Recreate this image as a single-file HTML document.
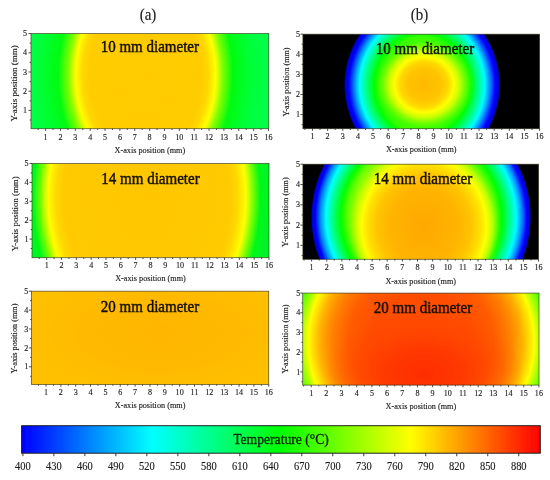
<!DOCTYPE html>
<html><head><meta charset="utf-8"><title>Temperature maps</title>
<style>
html,body{margin:0;padding:0;background:#fff;}
svg{display:block;font-family:"Liberation Serif",serif;}
</style></head><body>
<svg width="550" height="480" viewBox="0 0 550 480">
<defs>
<filter id="soft" x="0" y="0" width="550" height="480" filterUnits="userSpaceOnUse"><feGaussianBlur stdDeviation="0.38"/></filter>
<radialGradient id="ga1" gradientUnits="userSpaceOnUse" cx="0" cy="0" r="1" gradientTransform="translate(145.5,75) scale(115.5,160.04999999999998)"><stop offset="0.0000" stop-color="#ffcb00"/><stop offset="0.4848" stop-color="#ffcc00"/><stop offset="0.5455" stop-color="#ffd800"/><stop offset="0.5818" stop-color="#fff000"/><stop offset="0.6061" stop-color="#ffff00"/><stop offset="0.6273" stop-color="#d8ff00"/><stop offset="0.6667" stop-color="#80ff00"/><stop offset="0.7576" stop-color="#00fb10"/><stop offset="0.8788" stop-color="#00ff30"/><stop offset="1.0000" stop-color="#00ff44"/></radialGradient>
<radialGradient id="gb1" gradientUnits="userSpaceOnUse" cx="0" cy="0" r="1" gradientTransform="translate(422.1,85) scale(78.2,85.6)"><stop offset="0.0000" stop-color="#ffb400"/><stop offset="0.1200" stop-color="#ffc000"/><stop offset="0.3600" stop-color="#ffff00"/><stop offset="0.5000" stop-color="#80ff00"/><stop offset="0.6100" stop-color="#00ff00"/><stop offset="0.7100" stop-color="#00ff80"/><stop offset="0.8000" stop-color="#00ffff"/><stop offset="0.8700" stop-color="#0080ff"/><stop offset="0.9350" stop-color="#0000ff"/><stop offset="0.9800" stop-color="#0000d0"/><stop offset="1.0000" stop-color="#000000"/></radialGradient>
<radialGradient id="gb1i" gradientUnits="userSpaceOnUse" cx="0" cy="0" r="1" gradientTransform="translate(424,84.5) scale(51,48)"><stop offset="0.0000" stop-color="#ffb800"/><stop offset="0.3300" stop-color="#ffc400"/><stop offset="0.4700" stop-color="#ffd800"/><stop offset="0.5800" stop-color="#ffff00"/><stop offset="0.6800" stop-color="#d0ff00"/><stop offset="0.7800" stop-color="#80ff00"/><stop offset="0.9000" stop-color="#30ff00" stop-opacity="0.8"/><stop offset="1.0000" stop-color="#00ff00" stop-opacity="0"/></radialGradient>
<radialGradient id="ga2" gradientUnits="userSpaceOnUse" cx="0" cy="0" r="1" gradientTransform="translate(146.8,197) scale(128.44,179.4)"><stop offset="0.0000" stop-color="#ffc600"/><stop offset="0.6462" stop-color="#ffca00"/><stop offset="0.7077" stop-color="#ffd800"/><stop offset="0.7462" stop-color="#fff000"/><stop offset="0.7692" stop-color="#ffff00"/><stop offset="0.7885" stop-color="#d8ff00"/><stop offset="0.8231" stop-color="#80ff00"/><stop offset="0.8846" stop-color="#00f818"/><stop offset="1.0000" stop-color="#00f030"/></radialGradient>
<radialGradient id="gb2" gradientUnits="userSpaceOnUse" cx="0" cy="0" r="1" gradientTransform="translate(421,217) scale(110,112.5)"><stop offset="0.0000" stop-color="#ffaa00"/><stop offset="0.3500" stop-color="#ffb400"/><stop offset="0.5700" stop-color="#ffff00"/><stop offset="0.6500" stop-color="#80ff00"/><stop offset="0.7300" stop-color="#00ff00"/><stop offset="0.8000" stop-color="#00ff80"/><stop offset="0.8640" stop-color="#00ffff"/><stop offset="0.9200" stop-color="#0080ff"/><stop offset="0.9600" stop-color="#0000ff"/><stop offset="0.9900" stop-color="#0000d0"/><stop offset="1.0000" stop-color="#000000"/></radialGradient>
<radialGradient id="gb2i" gradientUnits="userSpaceOnUse" cx="0" cy="0" r="1" gradientTransform="translate(424,226) scale(79.375,86.36)"><stop offset="0.0000" stop-color="#ffa800"/><stop offset="0.4331" stop-color="#ffb400"/><stop offset="0.5906" stop-color="#ffc400"/><stop offset="0.7087" stop-color="#ffe000"/><stop offset="0.7874" stop-color="#ffff00"/><stop offset="0.8661" stop-color="#c0ff00" stop-opacity="0.85"/><stop offset="1.0000" stop-color="#00ff00" stop-opacity="0"/></radialGradient>
<radialGradient id="gb3" gradientUnits="userSpaceOnUse" cx="0" cy="0" r="1" gradientTransform="translate(421,342) scale(127.68999999999998,126.55999999999999)"><stop offset="0.0000" stop-color="#ff4a00"/><stop offset="0.3982" stop-color="#ff4e00"/><stop offset="0.5664" stop-color="#ff5c00"/><stop offset="0.6814" stop-color="#ff7c00"/><stop offset="0.7389" stop-color="#ff9400"/><stop offset="0.7965" stop-color="#ffb400"/><stop offset="0.8407" stop-color="#ffd800"/><stop offset="0.8850" stop-color="#ffff00"/><stop offset="0.9292" stop-color="#b0ff00"/><stop offset="1.0000" stop-color="#40ff00"/></radialGradient>
<radialGradient id="gb3i" gradientUnits="userSpaceOnUse" cx="0" cy="0" r="1" gradientTransform="translate(424,374) scale(100,62)"><stop offset="0.0000" stop-color="#ff2c00"/><stop offset="0.4000" stop-color="#ff3400" stop-opacity="0.8"/><stop offset="1.0000" stop-color="#ff4800" stop-opacity="0"/></radialGradient>
<radialGradient id="ga3" gradientUnits="userSpaceOnUse" cx="0" cy="0" r="1" gradientTransform="translate(160,332) scale(135,62)"><stop offset="0.0000" stop-color="#ffb500"/><stop offset="0.5000" stop-color="#ffb900"/><stop offset="1.0000" stop-color="#ffc000"/></radialGradient>
<linearGradient id="gcb" x1="0" y1="0" x2="1" y2="0"><stop offset="0.0000" stop-color="#0000ff"/><stop offset="0.0250" stop-color="#0017ff"/><stop offset="0.0500" stop-color="#0031ff"/><stop offset="0.0750" stop-color="#004aff"/><stop offset="0.1000" stop-color="#0064ff"/><stop offset="0.1250" stop-color="#007dff"/><stop offset="0.1500" stop-color="#0097ff"/><stop offset="0.1750" stop-color="#00b1ff"/><stop offset="0.2000" stop-color="#00caff"/><stop offset="0.2250" stop-color="#00e4ff"/><stop offset="0.2500" stop-color="#00feff"/><stop offset="0.2750" stop-color="#00ffe7"/><stop offset="0.3000" stop-color="#00ffcd"/><stop offset="0.3250" stop-color="#00ffb4"/><stop offset="0.3500" stop-color="#00ff9a"/><stop offset="0.3750" stop-color="#00ff80"/><stop offset="0.4000" stop-color="#00ff67"/><stop offset="0.4250" stop-color="#00ff4d"/><stop offset="0.4500" stop-color="#00ff34"/><stop offset="0.4750" stop-color="#00ff1a"/><stop offset="0.5000" stop-color="#00ff00"/><stop offset="0.5250" stop-color="#19ff00"/><stop offset="0.5500" stop-color="#33ff00"/><stop offset="0.5750" stop-color="#4cff00"/><stop offset="0.6000" stop-color="#66ff00"/><stop offset="0.6250" stop-color="#80ff00"/><stop offset="0.6500" stop-color="#99ff00"/><stop offset="0.6750" stop-color="#b3ff00"/><stop offset="0.7000" stop-color="#ccff00"/><stop offset="0.7250" stop-color="#e6ff00"/><stop offset="0.7500" stop-color="#fffe00"/><stop offset="0.7750" stop-color="#ffe500"/><stop offset="0.8000" stop-color="#ffcb00"/><stop offset="0.8250" stop-color="#ffb100"/><stop offset="0.8500" stop-color="#ff9800"/><stop offset="0.8750" stop-color="#ff7e00"/><stop offset="0.9000" stop-color="#ff6500"/><stop offset="0.9250" stop-color="#ff4b00"/><stop offset="0.9500" stop-color="#ff3100"/><stop offset="0.9750" stop-color="#ff1800"/><stop offset="1.0000" stop-color="#ff0000"/></linearGradient>
</defs>
<rect width="550" height="480" fill="#fff"/>
<g filter="url(#soft)">
<rect x="31.0" y="33.6" width="237.70" height="95.10" fill="url(#ga1)"/>
<rect x="31.0" y="33.6" width="237.70" height="95.10" fill="none" stroke="#2a2a10" stroke-opacity="0.75" stroke-width="0.8"/>
<text transform="translate(45.60,139.80) scale(0.93,1)" font-size="8.7" text-anchor="middle" fill="#1c1c1c" stroke="#222" stroke-width="0.15">1</text>
<text transform="translate(60.46,139.80) scale(0.93,1)" font-size="8.7" text-anchor="middle" fill="#1c1c1c" stroke="#222" stroke-width="0.15">2</text>
<text transform="translate(75.32,139.80) scale(0.93,1)" font-size="8.7" text-anchor="middle" fill="#1c1c1c" stroke="#222" stroke-width="0.15">3</text>
<text transform="translate(90.18,139.80) scale(0.93,1)" font-size="8.7" text-anchor="middle" fill="#1c1c1c" stroke="#222" stroke-width="0.15">4</text>
<text transform="translate(105.04,139.80) scale(0.93,1)" font-size="8.7" text-anchor="middle" fill="#1c1c1c" stroke="#222" stroke-width="0.15">5</text>
<text transform="translate(119.90,139.80) scale(0.93,1)" font-size="8.7" text-anchor="middle" fill="#1c1c1c" stroke="#222" stroke-width="0.15">6</text>
<text transform="translate(134.76,139.80) scale(0.93,1)" font-size="8.7" text-anchor="middle" fill="#1c1c1c" stroke="#222" stroke-width="0.15">7</text>
<text transform="translate(149.62,139.80) scale(0.93,1)" font-size="8.7" text-anchor="middle" fill="#1c1c1c" stroke="#222" stroke-width="0.15">8</text>
<text transform="translate(164.48,139.80) scale(0.93,1)" font-size="8.7" text-anchor="middle" fill="#1c1c1c" stroke="#222" stroke-width="0.15">9</text>
<text transform="translate(179.34,139.80) scale(0.93,1)" font-size="8.7" text-anchor="middle" fill="#1c1c1c" stroke="#222" stroke-width="0.15">10</text>
<text transform="translate(194.20,139.80) scale(0.93,1)" font-size="8.7" text-anchor="middle" fill="#1c1c1c" stroke="#222" stroke-width="0.15">11</text>
<text transform="translate(209.06,139.80) scale(0.93,1)" font-size="8.7" text-anchor="middle" fill="#1c1c1c" stroke="#222" stroke-width="0.15">12</text>
<text transform="translate(223.92,139.80) scale(0.93,1)" font-size="8.7" text-anchor="middle" fill="#1c1c1c" stroke="#222" stroke-width="0.15">13</text>
<text transform="translate(238.78,139.80) scale(0.93,1)" font-size="8.7" text-anchor="middle" fill="#1c1c1c" stroke="#222" stroke-width="0.15">14</text>
<text transform="translate(253.64,139.80) scale(0.93,1)" font-size="8.7" text-anchor="middle" fill="#1c1c1c" stroke="#222" stroke-width="0.15">15</text>
<text transform="translate(268.50,139.80) scale(0.93,1)" font-size="8.7" text-anchor="middle" fill="#1c1c1c" stroke="#222" stroke-width="0.15">16</text>
<text transform="translate(25.10,113.00) scale(0.93,1)" font-size="8.7" text-anchor="middle" fill="#1c1c1c" stroke="#222" stroke-width="0.15">1</text>
<text transform="translate(25.10,93.80) scale(0.93,1)" font-size="8.7" text-anchor="middle" fill="#1c1c1c" stroke="#222" stroke-width="0.15">2</text>
<text transform="translate(25.10,74.60) scale(0.93,1)" font-size="8.7" text-anchor="middle" fill="#1c1c1c" stroke="#222" stroke-width="0.15">3</text>
<text transform="translate(25.10,55.40) scale(0.93,1)" font-size="8.7" text-anchor="middle" fill="#1c1c1c" stroke="#222" stroke-width="0.15">4</text>
<text transform="translate(25.10,36.20) scale(0.93,1)" font-size="8.7" text-anchor="middle" fill="#1c1c1c" stroke="#222" stroke-width="0.15">5</text>
<path d="M45.60 130.90V128.70M38.17 130.00V128.70M60.46 130.90V128.70M53.03 130.00V128.70M75.32 130.90V128.70M67.89 130.00V128.70M90.18 130.90V128.70M82.75 130.00V128.70M105.04 130.90V128.70M97.61 130.00V128.70M119.90 130.90V128.70M112.47 130.00V128.70M134.76 130.90V128.70M127.33 130.00V128.70M149.62 130.90V128.70M142.19 130.00V128.70M164.48 130.90V128.70M157.05 130.00V128.70M179.34 130.90V128.70M171.91 130.00V128.70M194.20 130.90V128.70M186.77 130.00V128.70M209.06 130.90V128.70M201.63 130.00V128.70M223.92 130.90V128.70M216.49 130.00V128.70M238.78 130.90V128.70M231.35 130.00V128.70M253.64 130.90V128.70M246.21 130.00V128.70M268.50 130.90V128.70M261.07 130.00V128.70M28.50 110.40H31.00M29.70 120.00H31.00M28.50 91.20H31.00M29.70 100.80H31.00M28.50 72.00H31.00M29.70 81.60H31.00M28.50 52.80H31.00M29.70 62.40H31.00M28.50 33.60H31.00M29.70 43.20H31.00" fill="none" stroke="#222" stroke-width="0.8"/>
<text transform="translate(149.85,152.70) scale(0.912,1)" font-size="9.0" text-anchor="middle" fill="#1c1c1c" stroke="#222" stroke-width="0.15">X-axis position (mm)</text>
<text transform="translate(17.25,83.40) scale(0.8641975308641976,1) rotate(-90)" font-size="9.0" text-anchor="middle" fill="#1c1c1c" stroke="#222" stroke-width="0.15">Y-axis position (mm)</text>
<text transform="translate(149.85,52.30) scale(0.91,1)" font-size="16.5" text-anchor="middle" fill="#141000" stroke="#141000" stroke-width="0.45">10 mm diameter</text>
<rect x="302.9" y="34.2" width="236.70" height="94.50" fill="url(#gb1)"/>
<rect x="302.9" y="34.2" width="236.70" height="94.50" fill="url(#gb1i)"/>
<rect x="302.9" y="34.2" width="236.70" height="94.50" fill="none" stroke="#2a2a10" stroke-opacity="0.75" stroke-width="0.8"/>
<text transform="translate(312.50,139.20) scale(0.93,1)" font-size="8.7" text-anchor="middle" fill="#1c1c1c" stroke="#222" stroke-width="0.15">1</text>
<text transform="translate(327.64,139.20) scale(0.93,1)" font-size="8.7" text-anchor="middle" fill="#1c1c1c" stroke="#222" stroke-width="0.15">2</text>
<text transform="translate(342.78,139.20) scale(0.93,1)" font-size="8.7" text-anchor="middle" fill="#1c1c1c" stroke="#222" stroke-width="0.15">3</text>
<text transform="translate(357.92,139.20) scale(0.93,1)" font-size="8.7" text-anchor="middle" fill="#1c1c1c" stroke="#222" stroke-width="0.15">4</text>
<text transform="translate(373.06,139.20) scale(0.93,1)" font-size="8.7" text-anchor="middle" fill="#1c1c1c" stroke="#222" stroke-width="0.15">5</text>
<text transform="translate(388.20,139.20) scale(0.93,1)" font-size="8.7" text-anchor="middle" fill="#1c1c1c" stroke="#222" stroke-width="0.15">6</text>
<text transform="translate(403.34,139.20) scale(0.93,1)" font-size="8.7" text-anchor="middle" fill="#1c1c1c" stroke="#222" stroke-width="0.15">7</text>
<text transform="translate(418.48,139.20) scale(0.93,1)" font-size="8.7" text-anchor="middle" fill="#1c1c1c" stroke="#222" stroke-width="0.15">8</text>
<text transform="translate(433.62,139.20) scale(0.93,1)" font-size="8.7" text-anchor="middle" fill="#1c1c1c" stroke="#222" stroke-width="0.15">9</text>
<text transform="translate(448.76,139.20) scale(0.93,1)" font-size="8.7" text-anchor="middle" fill="#1c1c1c" stroke="#222" stroke-width="0.15">10</text>
<text transform="translate(463.90,139.20) scale(0.93,1)" font-size="8.7" text-anchor="middle" fill="#1c1c1c" stroke="#222" stroke-width="0.15">11</text>
<text transform="translate(479.04,139.20) scale(0.93,1)" font-size="8.7" text-anchor="middle" fill="#1c1c1c" stroke="#222" stroke-width="0.15">12</text>
<text transform="translate(494.18,139.20) scale(0.93,1)" font-size="8.7" text-anchor="middle" fill="#1c1c1c" stroke="#222" stroke-width="0.15">13</text>
<text transform="translate(509.32,139.20) scale(0.93,1)" font-size="8.7" text-anchor="middle" fill="#1c1c1c" stroke="#222" stroke-width="0.15">14</text>
<text transform="translate(524.46,139.20) scale(0.93,1)" font-size="8.7" text-anchor="middle" fill="#1c1c1c" stroke="#222" stroke-width="0.15">15</text>
<text transform="translate(539.60,139.20) scale(0.93,1)" font-size="8.7" text-anchor="middle" fill="#1c1c1c" stroke="#222" stroke-width="0.15">16</text>
<text transform="translate(298.00,117.20) scale(0.93,1)" font-size="8.7" text-anchor="middle" fill="#1c1c1c" stroke="#222" stroke-width="0.15">1</text>
<text transform="translate(298.00,97.10) scale(0.93,1)" font-size="8.7" text-anchor="middle" fill="#1c1c1c" stroke="#222" stroke-width="0.15">2</text>
<text transform="translate(298.00,77.00) scale(0.93,1)" font-size="8.7" text-anchor="middle" fill="#1c1c1c" stroke="#222" stroke-width="0.15">3</text>
<text transform="translate(298.00,56.90) scale(0.93,1)" font-size="8.7" text-anchor="middle" fill="#1c1c1c" stroke="#222" stroke-width="0.15">4</text>
<text transform="translate(298.00,36.80) scale(0.93,1)" font-size="8.7" text-anchor="middle" fill="#1c1c1c" stroke="#222" stroke-width="0.15">5</text>
<path d="M312.50 130.90V128.70M304.93 130.00V128.70M327.64 130.90V128.70M320.07 130.00V128.70M342.78 130.90V128.70M335.21 130.00V128.70M357.92 130.90V128.70M350.35 130.00V128.70M373.06 130.90V128.70M365.49 130.00V128.70M388.20 130.90V128.70M380.63 130.00V128.70M403.34 130.90V128.70M395.77 130.00V128.70M418.48 130.90V128.70M410.91 130.00V128.70M433.62 130.90V128.70M426.05 130.00V128.70M448.76 130.90V128.70M441.19 130.00V128.70M463.90 130.90V128.70M456.33 130.00V128.70M479.04 130.90V128.70M471.47 130.00V128.70M494.18 130.90V128.70M486.61 130.00V128.70M509.32 130.90V128.70M501.75 130.00V128.70M524.46 130.90V128.70M516.89 130.00V128.70M539.60 130.90V128.70M532.03 130.00V128.70M300.40 114.60H302.90M301.60 124.65H302.90M300.40 94.50H302.90M301.60 104.55H302.90M300.40 74.40H302.90M301.60 84.45H302.90M300.40 54.30H302.90M301.60 64.35H302.90M300.40 34.20H302.90M301.60 44.25H302.90" fill="none" stroke="#222" stroke-width="0.8"/>
<text transform="translate(421.25,152.00) scale(0.912,1)" font-size="9.0" text-anchor="middle" fill="#1c1c1c" stroke="#222" stroke-width="0.15">X-axis position (mm)</text>
<text transform="translate(289.20,82.00) scale(0.9543285616905248,1) rotate(-90)" font-size="8.15" text-anchor="middle" fill="#1c1c1c" stroke="#222" stroke-width="0.15">Y-axis position (mm)</text>
<text transform="translate(425.00,53.50) scale(0.91,1)" font-size="16.5" text-anchor="middle" fill="#141000" stroke="#141000" stroke-width="0.45">10 mm diameter</text>
<rect x="32.0" y="163.5" width="237.00" height="94.20" fill="url(#ga2)"/>
<rect x="32.0" y="163.5" width="237.00" height="94.20" fill="none" stroke="#2a2a10" stroke-opacity="0.75" stroke-width="0.8"/>
<text transform="translate(46.70,268.10) scale(0.93,1)" font-size="8.7" text-anchor="middle" fill="#1c1c1c" stroke="#222" stroke-width="0.15">1</text>
<text transform="translate(61.52,268.10) scale(0.93,1)" font-size="8.7" text-anchor="middle" fill="#1c1c1c" stroke="#222" stroke-width="0.15">2</text>
<text transform="translate(76.34,268.10) scale(0.93,1)" font-size="8.7" text-anchor="middle" fill="#1c1c1c" stroke="#222" stroke-width="0.15">3</text>
<text transform="translate(91.16,268.10) scale(0.93,1)" font-size="8.7" text-anchor="middle" fill="#1c1c1c" stroke="#222" stroke-width="0.15">4</text>
<text transform="translate(105.98,268.10) scale(0.93,1)" font-size="8.7" text-anchor="middle" fill="#1c1c1c" stroke="#222" stroke-width="0.15">5</text>
<text transform="translate(120.80,268.10) scale(0.93,1)" font-size="8.7" text-anchor="middle" fill="#1c1c1c" stroke="#222" stroke-width="0.15">6</text>
<text transform="translate(135.62,268.10) scale(0.93,1)" font-size="8.7" text-anchor="middle" fill="#1c1c1c" stroke="#222" stroke-width="0.15">7</text>
<text transform="translate(150.44,268.10) scale(0.93,1)" font-size="8.7" text-anchor="middle" fill="#1c1c1c" stroke="#222" stroke-width="0.15">8</text>
<text transform="translate(165.26,268.10) scale(0.93,1)" font-size="8.7" text-anchor="middle" fill="#1c1c1c" stroke="#222" stroke-width="0.15">9</text>
<text transform="translate(180.08,268.10) scale(0.93,1)" font-size="8.7" text-anchor="middle" fill="#1c1c1c" stroke="#222" stroke-width="0.15">10</text>
<text transform="translate(194.90,268.10) scale(0.93,1)" font-size="8.7" text-anchor="middle" fill="#1c1c1c" stroke="#222" stroke-width="0.15">11</text>
<text transform="translate(209.72,268.10) scale(0.93,1)" font-size="8.7" text-anchor="middle" fill="#1c1c1c" stroke="#222" stroke-width="0.15">12</text>
<text transform="translate(224.54,268.10) scale(0.93,1)" font-size="8.7" text-anchor="middle" fill="#1c1c1c" stroke="#222" stroke-width="0.15">13</text>
<text transform="translate(239.36,268.10) scale(0.93,1)" font-size="8.7" text-anchor="middle" fill="#1c1c1c" stroke="#222" stroke-width="0.15">14</text>
<text transform="translate(254.18,268.10) scale(0.93,1)" font-size="8.7" text-anchor="middle" fill="#1c1c1c" stroke="#222" stroke-width="0.15">15</text>
<text transform="translate(269.00,268.10) scale(0.93,1)" font-size="8.7" text-anchor="middle" fill="#1c1c1c" stroke="#222" stroke-width="0.15">16</text>
<text transform="translate(26.40,241.70) scale(0.93,1)" font-size="8.7" text-anchor="middle" fill="#1c1c1c" stroke="#222" stroke-width="0.15">1</text>
<text transform="translate(26.40,222.80) scale(0.93,1)" font-size="8.7" text-anchor="middle" fill="#1c1c1c" stroke="#222" stroke-width="0.15">2</text>
<text transform="translate(26.40,203.90) scale(0.93,1)" font-size="8.7" text-anchor="middle" fill="#1c1c1c" stroke="#222" stroke-width="0.15">3</text>
<text transform="translate(26.40,185.00) scale(0.93,1)" font-size="8.7" text-anchor="middle" fill="#1c1c1c" stroke="#222" stroke-width="0.15">4</text>
<text transform="translate(26.40,166.10) scale(0.93,1)" font-size="8.7" text-anchor="middle" fill="#1c1c1c" stroke="#222" stroke-width="0.15">5</text>
<path d="M46.70 259.90V257.70M39.29 259.00V257.70M61.52 259.90V257.70M54.11 259.00V257.70M76.34 259.90V257.70M68.93 259.00V257.70M91.16 259.90V257.70M83.75 259.00V257.70M105.98 259.90V257.70M98.57 259.00V257.70M120.80 259.90V257.70M113.39 259.00V257.70M135.62 259.90V257.70M128.21 259.00V257.70M150.44 259.90V257.70M143.03 259.00V257.70M165.26 259.90V257.70M157.85 259.00V257.70M180.08 259.90V257.70M172.67 259.00V257.70M194.90 259.90V257.70M187.49 259.00V257.70M209.72 259.90V257.70M202.31 259.00V257.70M224.54 259.90V257.70M217.13 259.00V257.70M239.36 259.90V257.70M231.95 259.00V257.70M254.18 259.90V257.70M246.77 259.00V257.70M269.00 259.90V257.70M261.59 259.00V257.70M29.50 239.10H32.00M30.70 248.55H32.00M29.50 220.20H32.00M30.70 229.65H32.00M29.50 201.30H32.00M30.70 210.75H32.00M29.50 182.40H32.00M30.70 191.85H32.00M29.50 163.50H32.00M30.70 172.95H32.00" fill="none" stroke="#222" stroke-width="0.8"/>
<text transform="translate(150.50,281.00) scale(0.912,1)" font-size="9.0" text-anchor="middle" fill="#1c1c1c" stroke="#222" stroke-width="0.15">X-axis position (mm)</text>
<text transform="translate(17.70,213.80) scale(0.8838383838383838,1) rotate(-90)" font-size="8.8" text-anchor="middle" fill="#1c1c1c" stroke="#222" stroke-width="0.15">Y-axis position (mm)</text>
<text transform="translate(150.50,183.60) scale(0.91,1)" font-size="16.5" text-anchor="middle" fill="#141000" stroke="#141000" stroke-width="0.45">14 mm diameter</text>
<rect x="302.9" y="164.2" width="235.70" height="95.10" fill="url(#gb2)"/>
<rect x="302.9" y="164.2" width="235.70" height="95.10" fill="url(#gb2i)"/>
<rect x="302.9" y="164.2" width="235.70" height="95.10" fill="none" stroke="#2a2a10" stroke-opacity="0.75" stroke-width="0.8"/>
<text transform="translate(311.60,270.40) scale(0.93,1)" font-size="8.7" text-anchor="middle" fill="#1c1c1c" stroke="#222" stroke-width="0.15">1</text>
<text transform="translate(326.73,270.40) scale(0.93,1)" font-size="8.7" text-anchor="middle" fill="#1c1c1c" stroke="#222" stroke-width="0.15">2</text>
<text transform="translate(341.86,270.40) scale(0.93,1)" font-size="8.7" text-anchor="middle" fill="#1c1c1c" stroke="#222" stroke-width="0.15">3</text>
<text transform="translate(356.99,270.40) scale(0.93,1)" font-size="8.7" text-anchor="middle" fill="#1c1c1c" stroke="#222" stroke-width="0.15">4</text>
<text transform="translate(372.12,270.40) scale(0.93,1)" font-size="8.7" text-anchor="middle" fill="#1c1c1c" stroke="#222" stroke-width="0.15">5</text>
<text transform="translate(387.25,270.40) scale(0.93,1)" font-size="8.7" text-anchor="middle" fill="#1c1c1c" stroke="#222" stroke-width="0.15">6</text>
<text transform="translate(402.38,270.40) scale(0.93,1)" font-size="8.7" text-anchor="middle" fill="#1c1c1c" stroke="#222" stroke-width="0.15">7</text>
<text transform="translate(417.51,270.40) scale(0.93,1)" font-size="8.7" text-anchor="middle" fill="#1c1c1c" stroke="#222" stroke-width="0.15">8</text>
<text transform="translate(432.64,270.40) scale(0.93,1)" font-size="8.7" text-anchor="middle" fill="#1c1c1c" stroke="#222" stroke-width="0.15">9</text>
<text transform="translate(447.77,270.40) scale(0.93,1)" font-size="8.7" text-anchor="middle" fill="#1c1c1c" stroke="#222" stroke-width="0.15">10</text>
<text transform="translate(462.90,270.40) scale(0.93,1)" font-size="8.7" text-anchor="middle" fill="#1c1c1c" stroke="#222" stroke-width="0.15">11</text>
<text transform="translate(478.03,270.40) scale(0.93,1)" font-size="8.7" text-anchor="middle" fill="#1c1c1c" stroke="#222" stroke-width="0.15">12</text>
<text transform="translate(493.16,270.40) scale(0.93,1)" font-size="8.7" text-anchor="middle" fill="#1c1c1c" stroke="#222" stroke-width="0.15">13</text>
<text transform="translate(508.29,270.40) scale(0.93,1)" font-size="8.7" text-anchor="middle" fill="#1c1c1c" stroke="#222" stroke-width="0.15">14</text>
<text transform="translate(523.42,270.40) scale(0.93,1)" font-size="8.7" text-anchor="middle" fill="#1c1c1c" stroke="#222" stroke-width="0.15">15</text>
<text transform="translate(538.55,270.40) scale(0.93,1)" font-size="8.7" text-anchor="middle" fill="#1c1c1c" stroke="#222" stroke-width="0.15">16</text>
<text transform="translate(298.00,248.00) scale(0.93,1)" font-size="8.7" text-anchor="middle" fill="#1c1c1c" stroke="#222" stroke-width="0.15">1</text>
<text transform="translate(298.00,227.70) scale(0.93,1)" font-size="8.7" text-anchor="middle" fill="#1c1c1c" stroke="#222" stroke-width="0.15">2</text>
<text transform="translate(298.00,207.40) scale(0.93,1)" font-size="8.7" text-anchor="middle" fill="#1c1c1c" stroke="#222" stroke-width="0.15">3</text>
<text transform="translate(298.00,187.10) scale(0.93,1)" font-size="8.7" text-anchor="middle" fill="#1c1c1c" stroke="#222" stroke-width="0.15">4</text>
<text transform="translate(298.00,166.80) scale(0.93,1)" font-size="8.7" text-anchor="middle" fill="#1c1c1c" stroke="#222" stroke-width="0.15">5</text>
<path d="M311.60 261.50V259.30M304.04 260.60V259.30M326.73 261.50V259.30M319.17 260.60V259.30M341.86 261.50V259.30M334.30 260.60V259.30M356.99 261.50V259.30M349.43 260.60V259.30M372.12 261.50V259.30M364.56 260.60V259.30M387.25 261.50V259.30M379.69 260.60V259.30M402.38 261.50V259.30M394.81 260.60V259.30M417.51 261.50V259.30M409.95 260.60V259.30M432.64 261.50V259.30M425.08 260.60V259.30M447.77 261.50V259.30M440.21 260.60V259.30M462.90 261.50V259.30M455.34 260.60V259.30M478.03 261.50V259.30M470.47 260.60V259.30M493.16 261.50V259.30M485.60 260.60V259.30M508.29 261.50V259.30M500.73 260.60V259.30M523.42 261.50V259.30M515.86 260.60V259.30M538.55 261.50V259.30M530.99 260.60V259.30M300.40 245.40H302.90M301.60 255.55H302.90M300.40 225.10H302.90M301.60 235.25H302.90M300.40 204.80H302.90M301.60 214.95H302.90M300.40 184.50H302.90M301.60 194.65H302.90M300.40 164.20H302.90M301.60 174.35H302.90" fill="none" stroke="#222" stroke-width="0.8"/>
<text transform="translate(420.75,284.30) scale(0.912,1)" font-size="9.0" text-anchor="middle" fill="#1c1c1c" stroke="#222" stroke-width="0.15">X-axis position (mm)</text>
<text transform="translate(288.00,212.20) scale(0.948509485094851,1) rotate(-90)" font-size="8.2" text-anchor="middle" fill="#1c1c1c" stroke="#222" stroke-width="0.15">Y-axis position (mm)</text>
<text transform="translate(423.00,184.00) scale(0.91,1)" font-size="16.5" text-anchor="middle" fill="#141000" stroke="#141000" stroke-width="0.45">14 mm diameter</text>
<rect x="31.4" y="291.2" width="237.30" height="93.30" fill="url(#ga3)"/>
<rect x="31.4" y="291.2" width="237.30" height="93.30" fill="none" stroke="#2a2a10" stroke-opacity="0.75" stroke-width="0.8"/>
<text transform="translate(46.00,394.70) scale(0.93,1)" font-size="8.7" text-anchor="middle" fill="#1c1c1c" stroke="#222" stroke-width="0.15">1</text>
<text transform="translate(60.85,394.70) scale(0.93,1)" font-size="8.7" text-anchor="middle" fill="#1c1c1c" stroke="#222" stroke-width="0.15">2</text>
<text transform="translate(75.70,394.70) scale(0.93,1)" font-size="8.7" text-anchor="middle" fill="#1c1c1c" stroke="#222" stroke-width="0.15">3</text>
<text transform="translate(90.55,394.70) scale(0.93,1)" font-size="8.7" text-anchor="middle" fill="#1c1c1c" stroke="#222" stroke-width="0.15">4</text>
<text transform="translate(105.40,394.70) scale(0.93,1)" font-size="8.7" text-anchor="middle" fill="#1c1c1c" stroke="#222" stroke-width="0.15">5</text>
<text transform="translate(120.25,394.70) scale(0.93,1)" font-size="8.7" text-anchor="middle" fill="#1c1c1c" stroke="#222" stroke-width="0.15">6</text>
<text transform="translate(135.10,394.70) scale(0.93,1)" font-size="8.7" text-anchor="middle" fill="#1c1c1c" stroke="#222" stroke-width="0.15">7</text>
<text transform="translate(149.95,394.70) scale(0.93,1)" font-size="8.7" text-anchor="middle" fill="#1c1c1c" stroke="#222" stroke-width="0.15">8</text>
<text transform="translate(164.80,394.70) scale(0.93,1)" font-size="8.7" text-anchor="middle" fill="#1c1c1c" stroke="#222" stroke-width="0.15">9</text>
<text transform="translate(179.65,394.70) scale(0.93,1)" font-size="8.7" text-anchor="middle" fill="#1c1c1c" stroke="#222" stroke-width="0.15">10</text>
<text transform="translate(194.50,394.70) scale(0.93,1)" font-size="8.7" text-anchor="middle" fill="#1c1c1c" stroke="#222" stroke-width="0.15">11</text>
<text transform="translate(209.35,394.70) scale(0.93,1)" font-size="8.7" text-anchor="middle" fill="#1c1c1c" stroke="#222" stroke-width="0.15">12</text>
<text transform="translate(224.20,394.70) scale(0.93,1)" font-size="8.7" text-anchor="middle" fill="#1c1c1c" stroke="#222" stroke-width="0.15">13</text>
<text transform="translate(239.05,394.70) scale(0.93,1)" font-size="8.7" text-anchor="middle" fill="#1c1c1c" stroke="#222" stroke-width="0.15">14</text>
<text transform="translate(253.90,394.70) scale(0.93,1)" font-size="8.7" text-anchor="middle" fill="#1c1c1c" stroke="#222" stroke-width="0.15">15</text>
<text transform="translate(268.75,394.70) scale(0.93,1)" font-size="8.7" text-anchor="middle" fill="#1c1c1c" stroke="#222" stroke-width="0.15">16</text>
<text transform="translate(26.20,369.40) scale(0.93,1)" font-size="8.7" text-anchor="middle" fill="#1c1c1c" stroke="#222" stroke-width="0.15">1</text>
<text transform="translate(26.20,350.50) scale(0.93,1)" font-size="8.7" text-anchor="middle" fill="#1c1c1c" stroke="#222" stroke-width="0.15">2</text>
<text transform="translate(26.20,331.60) scale(0.93,1)" font-size="8.7" text-anchor="middle" fill="#1c1c1c" stroke="#222" stroke-width="0.15">3</text>
<text transform="translate(26.20,312.70) scale(0.93,1)" font-size="8.7" text-anchor="middle" fill="#1c1c1c" stroke="#222" stroke-width="0.15">4</text>
<text transform="translate(26.20,293.80) scale(0.93,1)" font-size="8.7" text-anchor="middle" fill="#1c1c1c" stroke="#222" stroke-width="0.15">5</text>
<path d="M46.00 386.70V384.50M38.58 385.80V384.50M60.85 386.70V384.50M53.43 385.80V384.50M75.70 386.70V384.50M68.28 385.80V384.50M90.55 386.70V384.50M83.12 385.80V384.50M105.40 386.70V384.50M97.98 385.80V384.50M120.25 386.70V384.50M112.83 385.80V384.50M135.10 386.70V384.50M127.67 385.80V384.50M149.95 386.70V384.50M142.52 385.80V384.50M164.80 386.70V384.50M157.38 385.80V384.50M179.65 386.70V384.50M172.22 385.80V384.50M194.50 386.70V384.50M187.07 385.80V384.50M209.35 386.70V384.50M201.92 385.80V384.50M224.20 386.70V384.50M216.77 385.80V384.50M239.05 386.70V384.50M231.62 385.80V384.50M253.90 386.70V384.50M246.47 385.80V384.50M268.75 386.70V384.50M261.32 385.80V384.50M28.90 366.80H31.40M30.10 376.25H31.40M28.90 347.90H31.40M30.10 357.35H31.40M28.90 329.00H31.40M30.10 338.45H31.40M28.90 310.10H31.40M30.10 319.55H31.40M28.90 291.20H31.40M30.10 300.65H31.40" fill="none" stroke="#222" stroke-width="0.8"/>
<text transform="translate(150.05,407.90) scale(0.912,1)" font-size="9.0" text-anchor="middle" fill="#1c1c1c" stroke="#222" stroke-width="0.15">X-axis position (mm)</text>
<text transform="translate(17.20,338.50) scale(0.9427609427609428,1) rotate(-90)" font-size="8.25" text-anchor="middle" fill="#1c1c1c" stroke="#222" stroke-width="0.15">Y-axis position (mm)</text>
<text transform="translate(150.00,311.60) scale(0.91,1)" font-size="16.5" text-anchor="middle" fill="#141000" stroke="#141000" stroke-width="0.45">20 mm diameter</text>
<rect x="302.7" y="293.1" width="236.30" height="92.00" fill="url(#gb3)"/>
<rect x="302.7" y="293.1" width="236.30" height="92.00" fill="url(#gb3i)"/>
<rect x="302.7" y="293.1" width="236.30" height="92.00" fill="none" stroke="#2a2a10" stroke-opacity="0.75" stroke-width="0.8"/>
<text transform="translate(311.20,396.20) scale(0.93,1)" font-size="8.7" text-anchor="middle" fill="#1c1c1c" stroke="#222" stroke-width="0.15">1</text>
<text transform="translate(326.38,396.20) scale(0.93,1)" font-size="8.7" text-anchor="middle" fill="#1c1c1c" stroke="#222" stroke-width="0.15">2</text>
<text transform="translate(341.56,396.20) scale(0.93,1)" font-size="8.7" text-anchor="middle" fill="#1c1c1c" stroke="#222" stroke-width="0.15">3</text>
<text transform="translate(356.74,396.20) scale(0.93,1)" font-size="8.7" text-anchor="middle" fill="#1c1c1c" stroke="#222" stroke-width="0.15">4</text>
<text transform="translate(371.92,396.20) scale(0.93,1)" font-size="8.7" text-anchor="middle" fill="#1c1c1c" stroke="#222" stroke-width="0.15">5</text>
<text transform="translate(387.10,396.20) scale(0.93,1)" font-size="8.7" text-anchor="middle" fill="#1c1c1c" stroke="#222" stroke-width="0.15">6</text>
<text transform="translate(402.28,396.20) scale(0.93,1)" font-size="8.7" text-anchor="middle" fill="#1c1c1c" stroke="#222" stroke-width="0.15">7</text>
<text transform="translate(417.46,396.20) scale(0.93,1)" font-size="8.7" text-anchor="middle" fill="#1c1c1c" stroke="#222" stroke-width="0.15">8</text>
<text transform="translate(432.64,396.20) scale(0.93,1)" font-size="8.7" text-anchor="middle" fill="#1c1c1c" stroke="#222" stroke-width="0.15">9</text>
<text transform="translate(447.82,396.20) scale(0.93,1)" font-size="8.7" text-anchor="middle" fill="#1c1c1c" stroke="#222" stroke-width="0.15">10</text>
<text transform="translate(463.00,396.20) scale(0.93,1)" font-size="8.7" text-anchor="middle" fill="#1c1c1c" stroke="#222" stroke-width="0.15">11</text>
<text transform="translate(478.18,396.20) scale(0.93,1)" font-size="8.7" text-anchor="middle" fill="#1c1c1c" stroke="#222" stroke-width="0.15">12</text>
<text transform="translate(493.36,396.20) scale(0.93,1)" font-size="8.7" text-anchor="middle" fill="#1c1c1c" stroke="#222" stroke-width="0.15">13</text>
<text transform="translate(508.54,396.20) scale(0.93,1)" font-size="8.7" text-anchor="middle" fill="#1c1c1c" stroke="#222" stroke-width="0.15">14</text>
<text transform="translate(523.72,396.20) scale(0.93,1)" font-size="8.7" text-anchor="middle" fill="#1c1c1c" stroke="#222" stroke-width="0.15">15</text>
<text transform="translate(538.90,396.20) scale(0.93,1)" font-size="8.7" text-anchor="middle" fill="#1c1c1c" stroke="#222" stroke-width="0.15">16</text>
<text transform="translate(298.20,374.50) scale(0.93,1)" font-size="8.7" text-anchor="middle" fill="#1c1c1c" stroke="#222" stroke-width="0.15">1</text>
<text transform="translate(298.20,354.80) scale(0.93,1)" font-size="8.7" text-anchor="middle" fill="#1c1c1c" stroke="#222" stroke-width="0.15">2</text>
<text transform="translate(298.20,335.10) scale(0.93,1)" font-size="8.7" text-anchor="middle" fill="#1c1c1c" stroke="#222" stroke-width="0.15">3</text>
<text transform="translate(298.20,315.40) scale(0.93,1)" font-size="8.7" text-anchor="middle" fill="#1c1c1c" stroke="#222" stroke-width="0.15">4</text>
<text transform="translate(298.20,295.70) scale(0.93,1)" font-size="8.7" text-anchor="middle" fill="#1c1c1c" stroke="#222" stroke-width="0.15">5</text>
<path d="M311.20 387.30V385.10M303.61 386.40V385.10M326.38 387.30V385.10M318.79 386.40V385.10M341.56 387.30V385.10M333.97 386.40V385.10M356.74 387.30V385.10M349.15 386.40V385.10M371.92 387.30V385.10M364.33 386.40V385.10M387.10 387.30V385.10M379.51 386.40V385.10M402.28 387.30V385.10M394.69 386.40V385.10M417.46 387.30V385.10M409.87 386.40V385.10M432.64 387.30V385.10M425.05 386.40V385.10M447.82 387.30V385.10M440.23 386.40V385.10M463.00 387.30V385.10M455.41 386.40V385.10M478.18 387.30V385.10M470.59 386.40V385.10M493.36 387.30V385.10M485.77 386.40V385.10M508.54 387.30V385.10M500.95 386.40V385.10M523.72 387.30V385.10M516.13 386.40V385.10M538.90 387.30V385.10M531.31 386.40V385.10M300.20 371.90H302.70M301.40 381.75H302.70M300.20 352.20H302.70M301.40 362.05H302.70M300.20 332.50H302.70M301.40 342.35H302.70M300.20 312.80H302.70M301.40 322.65H302.70M300.20 293.10H302.70M301.40 302.95H302.70" fill="none" stroke="#222" stroke-width="0.8"/>
<text transform="translate(420.85,409.40) scale(0.912,1)" font-size="9.0" text-anchor="middle" fill="#1c1c1c" stroke="#222" stroke-width="0.15">X-axis position (mm)</text>
<text transform="translate(288.20,339.00) scale(0.9543285616905248,1) rotate(-90)" font-size="8.15" text-anchor="middle" fill="#1c1c1c" stroke="#222" stroke-width="0.15">Y-axis position (mm)</text>
<text transform="translate(423.00,312.70) scale(0.91,1)" font-size="16.5" text-anchor="middle" fill="#141000" stroke="#141000" stroke-width="0.45">20 mm diameter</text>
<text transform="translate(148.00,20.00) scale(0.91,1)" font-size="16.5" text-anchor="middle" fill="#1c1c1c" stroke="#222" stroke-width="0.15">(a)</text>
<text transform="translate(419.50,20.00) scale(0.91,1)" font-size="16.5" text-anchor="middle" fill="#1c1c1c" stroke="#222" stroke-width="0.15">(b)</text>
<rect x="21.6" y="425.7" width="518.70" height="27.50" fill="url(#gcb)" stroke="#222" stroke-width="1"/>
<text transform="translate(22.90,470.20) scale(0.91,1)" font-size="11.5" text-anchor="middle" fill="#1c1c1c" stroke="#222" stroke-width="0.15">400</text>
<text transform="translate(53.89,470.20) scale(0.91,1)" font-size="11.5" text-anchor="middle" fill="#1c1c1c" stroke="#222" stroke-width="0.15">430</text>
<text transform="translate(84.88,470.20) scale(0.91,1)" font-size="11.5" text-anchor="middle" fill="#1c1c1c" stroke="#222" stroke-width="0.15">460</text>
<text transform="translate(115.87,470.20) scale(0.91,1)" font-size="11.5" text-anchor="middle" fill="#1c1c1c" stroke="#222" stroke-width="0.15">490</text>
<text transform="translate(146.86,470.20) scale(0.91,1)" font-size="11.5" text-anchor="middle" fill="#1c1c1c" stroke="#222" stroke-width="0.15">520</text>
<text transform="translate(177.85,470.20) scale(0.91,1)" font-size="11.5" text-anchor="middle" fill="#1c1c1c" stroke="#222" stroke-width="0.15">550</text>
<text transform="translate(208.84,470.20) scale(0.91,1)" font-size="11.5" text-anchor="middle" fill="#1c1c1c" stroke="#222" stroke-width="0.15">580</text>
<text transform="translate(239.83,470.20) scale(0.91,1)" font-size="11.5" text-anchor="middle" fill="#1c1c1c" stroke="#222" stroke-width="0.15">610</text>
<text transform="translate(270.82,470.20) scale(0.91,1)" font-size="11.5" text-anchor="middle" fill="#1c1c1c" stroke="#222" stroke-width="0.15">640</text>
<text transform="translate(301.81,470.20) scale(0.91,1)" font-size="11.5" text-anchor="middle" fill="#1c1c1c" stroke="#222" stroke-width="0.15">670</text>
<text transform="translate(332.80,470.20) scale(0.91,1)" font-size="11.5" text-anchor="middle" fill="#1c1c1c" stroke="#222" stroke-width="0.15">700</text>
<text transform="translate(363.79,470.20) scale(0.91,1)" font-size="11.5" text-anchor="middle" fill="#1c1c1c" stroke="#222" stroke-width="0.15">730</text>
<text transform="translate(394.78,470.20) scale(0.91,1)" font-size="11.5" text-anchor="middle" fill="#1c1c1c" stroke="#222" stroke-width="0.15">760</text>
<text transform="translate(425.77,470.20) scale(0.91,1)" font-size="11.5" text-anchor="middle" fill="#1c1c1c" stroke="#222" stroke-width="0.15">790</text>
<text transform="translate(456.76,470.20) scale(0.91,1)" font-size="11.5" text-anchor="middle" fill="#1c1c1c" stroke="#222" stroke-width="0.15">820</text>
<text transform="translate(487.75,470.20) scale(0.91,1)" font-size="11.5" text-anchor="middle" fill="#1c1c1c" stroke="#222" stroke-width="0.15">850</text>
<text transform="translate(518.74,470.20) scale(0.91,1)" font-size="11.5" text-anchor="middle" fill="#1c1c1c" stroke="#222" stroke-width="0.15">880</text>
<path d="M22.90 453.20v3M53.89 453.20v3M84.88 453.20v3M115.87 453.20v3M146.86 453.20v3M177.85 453.20v3M208.84 453.20v3M239.83 453.20v3M270.82 453.20v3M301.81 453.20v3M332.80 453.20v3M363.79 453.20v3M394.78 453.20v3M425.77 453.20v3M456.76 453.20v3M487.75 453.20v3M518.74 453.20v3" fill="none" stroke="#222" stroke-width="0.9"/>
<text transform="translate(281.00,444.40) scale(0.91,1)" font-size="15" text-anchor="middle" fill="#0a1a0a" stroke="#0a1a0a" stroke-width="0.3">Temperature (°C)</text>
</g>
</svg>
</body></html>
